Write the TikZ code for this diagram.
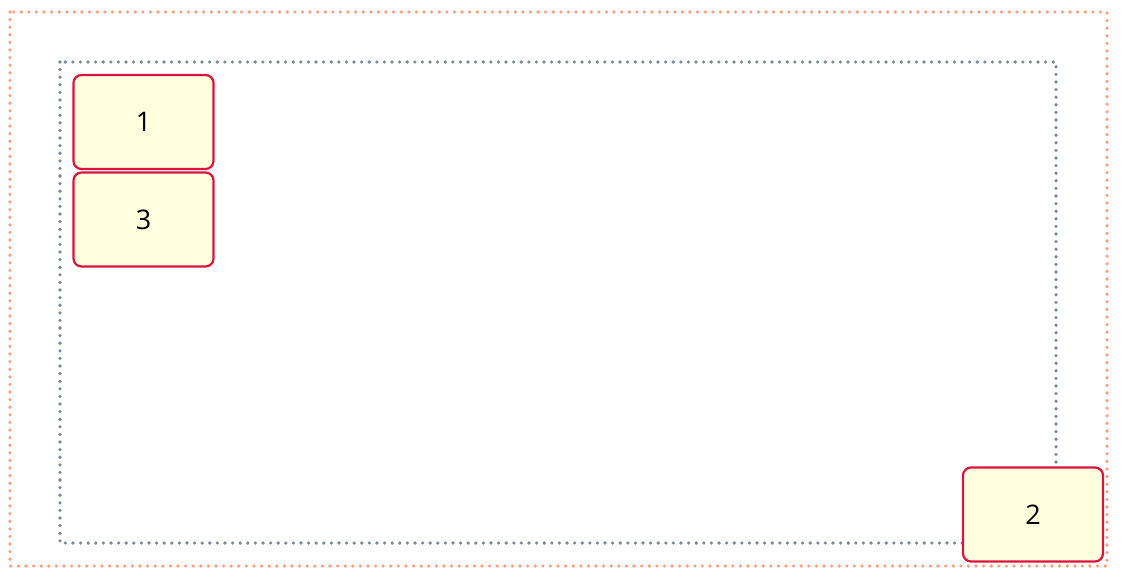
\documentclass[tikz,border=0pt]{standalone}
\usepackage{fontspec}
\setmainfont{Open Sans}
\definecolor{outerc}{HTML}{FFA07A}
\definecolor{innerc}{HTML}{778899}
\definecolor{boxred}{HTML}{DC143C}
\definecolor{boxfill}{HTML}{FFFFE0}
\begin{document}
\begin{tikzpicture}[x=1pt,y=-1pt,
  outerframe/.style={draw=outerc,line width=3.6pt,line cap=round,dash pattern=on 0pt off 7.6pt},
  innerframe/.style={draw=innerc,line width=3.6pt,line cap=round,dash pattern=on 0pt off 7.6pt},
  itembox/.style={draw=boxred,fill=boxfill,line width=2.2pt,rounded corners=8pt,
     minimum width=140pt,minimum height=94pt,inner sep=0pt,font=\fontsize{27}{32}\selectfont}]
\useasboundingbox (0,0) rectangle (1124,578);
\draw[outerframe] (10,12) rectangle (1107,566);
\draw[innerframe] (60,62) rectangle (1056,543);
\node[itembox] (n1) at (143.5,122) {1};
\node[itembox] (n3) at (143.5,219.5) {3};
\node[itembox] (n2) at (1033,514.5) {2};
\end{tikzpicture}
\end{document}
